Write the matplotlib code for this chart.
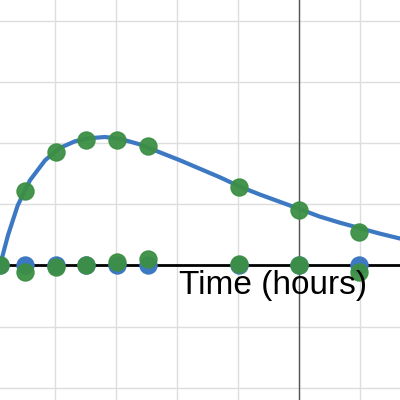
import matplotlib.pyplot as plt
import numpy as np

# values, in grid units (1 unit = one grid cell)
curve_x = [-4.9, -4.77, -4.61, -4.41, -4.16, -3.92, -3.67, -3.43, -3.18, -2.93, -2.61, -2.28, -1.95, -1.62, -1.29, -0.97, -0.64, -0.31, 0.02, 0.34, 0.67, 1.0, 1.33, 1.66]
curve_y = [0.0, 0.49, 0.98, 1.39, 1.72, 1.92, 2.03, 2.08, 2.1, 2.07, 1.98, 1.85, 1.72, 1.58, 1.44, 1.29, 1.16, 1.04, 0.92, 0.8, 0.7, 0.61, 0.52, 0.44]

t = [-4.49, -3.98, -3.49, -2.98, -2.48, -0.98, 0.0, 0.98]
green_top = [1.21, 1.85, 2.05, 2.05, 1.95, 1.29, 0.90, 0.54]
green_low = [-0.10, -0.03, 0.0, 0.05, 0.10, 0.03, 0.0, -0.10]
blue_x = [-4.9] + t
blue_y = [0, 0, 0, 0, 0, 0, 0, 0, 0]

fig = plt.figure(figsize=(4, 4), dpi=100)
ax = fig.add_axes([0, 0, 1, 1])
ax.set_xlim(-4.9, 1.66)
ax.set_ylim(-2.2, 4.34)
for g in range(-4, 2):
    ax.axvline(g, color='#dddddd', lw=1, zorder=0)
for g in range(-2, 5):
    ax.axhline(g, color='#dddddd', lw=1, zorder=0)
ax.axvline(0, color='#555555', lw=1, zorder=1)
ax.axhline(0, color='black', lw=2, zorder=1)

ax.plot(curve_x, curve_y, color='#3d78c2', lw=3, zorder=2)
ax.scatter(blue_x, blue_y, s=150, color='#3d78c2', zorder=3)
ax.scatter(t, green_top, s=150, color='#3c8f44', alpha=0.95, zorder=4)
ax.scatter([-4.9] + t, [0.0] + green_low, s=150, color='#3c8f44', alpha=0.95, zorder=4)

ax.text(-1.97, -0.33, 'Time (hours)', fontsize=24, family='Liberation Sans',
        va='center', ha='left', zorder=5)
ax.axis('off')
fig.savefig('out.png', dpi=100)
